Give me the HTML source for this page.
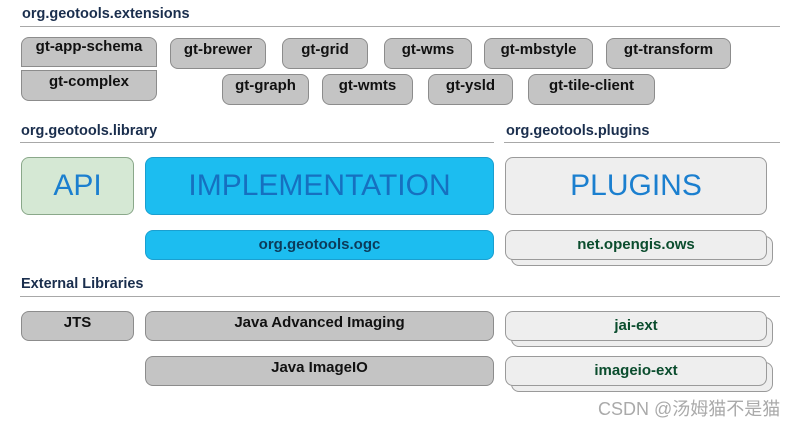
<!DOCTYPE html><html><head><style>
body{margin:0;width:806px;height:426px;background:#fff;position:relative;overflow:hidden;font-family:"Liberation Sans",sans-serif}
div{position:absolute;box-sizing:border-box}
.h{font-weight:bold;font-size:14.5px;color:#1a2e4d}
.l{height:1px;background:#a8a8a8}
.b{background:#c4c4c4;border:1px solid #8c8c8c;border-radius:8px;font-weight:bold;font-size:15px;color:#111;text-align:center;line-height:22px;white-space:nowrap}
.p{background:#eeeeee;border:1px solid #9a9a9a;border-radius:8px;font-weight:bold;font-size:15px;color:#0b4d2e;text-align:center;line-height:28px}
</style></head><body>
<div class="h" style="left:22px;top:6px">org.geotools.extensions</div>
<div class="l" style="left:20px;top:26px;width:760px"></div>
<div class="b" style="left:21px;top:37px;width:136px;height:30px;border-radius:8px 8px 0 0;line-height:18px">gt-app-schema</div>
<div class="b" style="left:21px;top:70px;width:136px;height:31px;border-radius:0 0 8px 8px;line-height:22px">gt-complex</div>
<div class="b" style="left:170px;top:38px;width:96px;height:31px">gt-brewer</div>
<div class="b" style="left:282px;top:38px;width:86px;height:31px">gt-grid</div>
<div class="b" style="left:384px;top:38px;width:88px;height:31px">gt-wms</div>
<div class="b" style="left:484px;top:38px;width:109px;height:31px">gt-mbstyle</div>
<div class="b" style="left:606px;top:38px;width:125px;height:31px">gt-transform</div>
<div class="b" style="left:222px;top:74px;width:87px;height:31px">gt-graph</div>
<div class="b" style="left:322px;top:74px;width:91px;height:31px">gt-wmts</div>
<div class="b" style="left:428px;top:74px;width:85px;height:31px">gt-ysld</div>
<div class="b" style="left:528px;top:74px;width:127px;height:31px">gt-tile-client</div>
<div class="h" style="left:21px;top:123px">org.geotools.library</div>
<div class="l" style="left:20px;top:142px;width:474px"></div>
<div class="h" style="left:506px;top:123px">org.geotools.plugins</div>
<div class="l" style="left:504px;top:142px;width:276px"></div>
<div style="left:21px;top:157px;width:113px;height:58px;background:#d5e8d4;border:1px solid #8aa88a;border-radius:8px;color:#1b7fcf;font-size:30px;text-align:center;line-height:56px">API</div>
<div style="left:145px;top:157px;width:349px;height:58px;background:#1cbdf0;border:1px solid #1a9fd0;border-radius:8px;color:#1670c0;font-size:30px;text-align:center;line-height:56px">IMPLEMENTATION</div>
<div style="left:505px;top:157px;width:262px;height:58px;background:#eeeeee;border:1px solid #9a9a9a;border-radius:8px;color:#1b7fcf;font-size:30px;text-align:center;line-height:56px">PLUGINS</div>
<div class="b" style="left:145px;top:230px;width:349px;height:30px;background:#1cbdf0;border-color:#1a9fd0;color:#0c3b5a;line-height:28px">org.geotools.ogc</div>
<div class="p" style="left:511px;top:236px;width:262px;height:30px"></div>
<div class="p" style="left:505px;top:230px;width:262px;height:30px">net.opengis.ows</div>
<div class="h" style="left:21px;top:276px">External Libraries</div>
<div class="l" style="left:20px;top:296px;width:760px"></div>
<div class="b" style="left:21px;top:311px;width:113px;height:30px;line-height:22px">JTS</div>
<div class="b" style="left:145px;top:311px;width:349px;height:30px;line-height:22px">Java Advanced Imaging</div>
<div class="p" style="left:511px;top:317px;width:262px;height:30px"></div>
<div class="p" style="left:505px;top:311px;width:262px;height:30px">jai-ext</div>
<div class="b" style="left:145px;top:356px;width:349px;height:30px;line-height:22px">Java ImageIO</div>
<div class="p" style="left:511px;top:362px;width:262px;height:30px"></div>
<div class="p" style="left:505px;top:356px;width:262px;height:30px">imageio-ext</div>
<div style="left:598px;top:395px;font-size:18px;color:#aaa;font-family:'Liberation Sans','Noto Sans CJK SC',sans-serif;white-space:nowrap">CSDN @汤姆猫不是猫</div>
</body></html>
